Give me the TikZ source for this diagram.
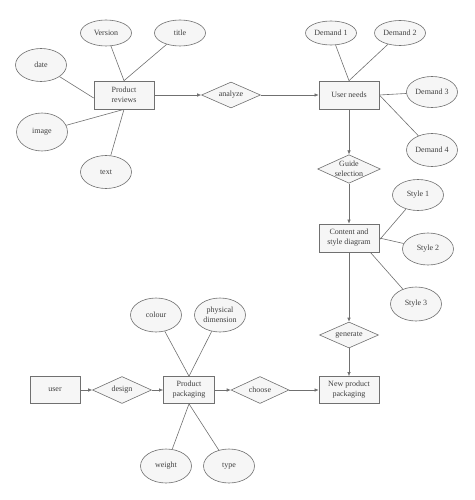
\documentclass[tikz,border=0pt]{standalone}
\usepackage{fontspec}
\setmainfont{Liberation Serif}
\usetikzlibrary{shapes.geometric,arrows.meta}
\definecolor{ln}{HTML}{707070}
\definecolor{fl}{HTML}{F6F6F6}
\definecolor{tx}{HTML}{404040}
\begin{document}
\begin{tikzpicture}[x=1pt,y=-1pt,
  every node/.style={font=\fontsize{8}{10}\selectfont,text=tx,align=center,inner sep=0pt},
  ent/.style={draw=ln,fill=fl,line width=0.7pt,rectangle,minimum width=60pt,minimum height=28pt},
  attr/.style={draw=ln,fill=fl,line width=0.6pt,ellipse,minimum width=51pt,minimum height=32pt},
  rel/.style={draw=ln,fill=fl,line width=0.6pt,diamond,aspect=2.2,minimum width=59pt,minimum height=26pt},
  con/.style={draw=ln,line width=0.6pt},
  arr/.style={con,-{Latex[length=4pt,width=3.5pt]}}]
\useasboundingbox (0,0) rectangle (474,500);
% nodes
\node[ent] (PR) at (124,95) {Product\\reviews};
\node[rel] (AN) at (231,95) {analyze};
\node[ent] (UN) at (349,95) {User needs};
\node[rel,minimum height=28pt] (GS) at (349,169) {Guide\\selection};
\node[ent] (CS) at (349,238) {Content and\\style diagram};
\node[rel] (GE) at (349,335) {generate};
\node[ent,minimum height=27pt] (NP) at (349,390) {New product\\packaging};
\node[ent,minimum width=50pt,minimum height=27pt] (US) at (55,390) {user};
\node[rel,minimum height=27pt] (DE) at (122,390) {design};
\node[ent,minimum width=51pt,minimum height=27pt] (PP) at (189,390) {Product\\packaging};
\node[rel,minimum width=58pt,minimum height=27pt] (CH) at (260,390) {choose};
% attributes
\node[attr,minimum height=26pt] (VE) at (106,33) {Version};
\node[attr,minimum height=26pt] (TI) at (180,33) {title};
\node[attr,minimum height=33pt] (DA) at (41,65) {date};
\node[attr,minimum height=38pt] (IM) at (42,132) {image};
\node[attr,minimum height=33pt] (TE) at (106,172) {text};
\node[attr,minimum height=24pt] (D1) at (331,33) {Demand 1};
\node[attr,minimum height=25pt] (D2) at (400,33) {Demand 2};
\node[attr,minimum height=31pt] (D3) at (432,92) {Demand 3};
\node[attr,minimum height=33pt] (D4) at (432,150) {Demand 4};
\node[attr,minimum height=31pt] (S1) at (418,195) {Style 1};
\node[attr,minimum height=32pt] (S2) at (428,249) {Style 2};
\node[attr,minimum height=34pt] (S3) at (416,304) {Style 3};
\node[attr,minimum height=34pt] (CO) at (156,315) {colour};
\node[attr,minimum height=34pt] (PD) at (220,315) {physical\\dimension};
\node[attr,minimum height=34pt] (WE) at (166,466) {weight};
\node[attr,minimum height=34pt] (TY) at (229,466) {type};
% attribute links
\draw[con] (VE) -- (PR.north);
\draw[con] (TI) -- (PR.north);
\draw[con] (DA) -- ([yshift=-3pt]PR.west);
\draw[con] (IM) -- (PR.south);
\draw[con] (TE) -- (PR.south);
\draw[con] (D1) -- (UN.north);
\draw[con] (D2) -- (UN.north);
\draw[con] (D3) -- (UN.east);
\draw[con] (D4) -- (UN.east);
\draw[con] (S1) -- ([yshift=-2pt]CS.east);
\draw[con] (S2) -- (CS.east);
\draw[con] (S3) -- ([xshift=-9pt]CS.south east);
\draw[con] (CO) -- (PP.north);
\draw[con] (PD) -- (PP.north);
\draw[con] (WE) -- (PP.south);
\draw[con] (TY) -- (PP.south);
% flow arrows
\draw[arr] (PR) -- (AN);
\draw[arr] (AN) -- (UN);
\draw[arr] (UN) -- (GS);
\draw[arr] (GS) -- (CS);
\draw[arr] (CS) -- (GE);
\draw[arr] (GE) -- (NP);
\draw[arr] (US) -- (DE);
\draw[arr] (DE) -- (PP);
\draw[arr] (PP) -- (CH);
\draw[arr] (CH) -- (NP);
\end{tikzpicture}
\end{document}
